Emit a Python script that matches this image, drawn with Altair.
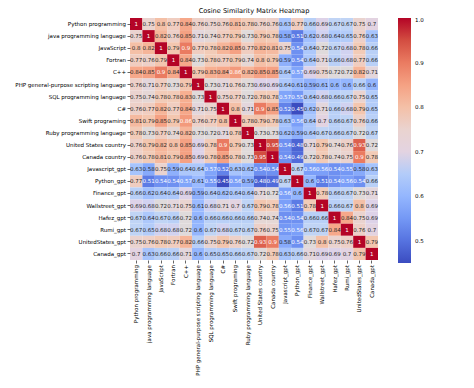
import altair as alt
import pandas as pd

labels = [
    "Python programming", "java programming language", "JavaScript", "Fortran", "C++",
    "PHP general-purpose scripting language", "SQL programming language", "C#",
    "Swift programing", "Ruby programming language", "United States country",
    "Canada country", "Javascript_gpt", "Python_gpt", "Finance_gpt", "Wallstreet_gpt",
    "Hafez_gpt", "Rumi_gpt", "UnitedStates_gpt", "Canada_gpt",
]

r_python = [1, 0.75, 0.8, 0.77, 0.84, 0.76, 0.75, 0.76, 0.81, 0.78, 0.76, 0.76, 0.63, 0.77, 0.66, 0.69, 0.67, 0.67, 0.75, 0.7]
r_java = [0.75, 1, 0.82, 0.76, 0.85, 0.71, 0.74, 0.77, 0.79, 0.73, 0.79, 0.78, 0.58, 0.51, 0.62, 0.68, 0.64, 0.65, 0.76, 0.63]
r_javascript = [0.8, 0.82, 1, 0.79, 0.9, 0.77, 0.78, 0.82, 0.85, 0.77, 0.82, 0.81, 0.75, 0.54, 0.64, 0.72, 0.67, 0.68, 0.78, 0.66]
r_fortran = [0.77, 0.76, 0.79, 1, 0.84, 0.73, 0.78, 0.77, 0.79, 0.74, 0.8, 0.79, 0.59, 0.54, 0.64, 0.71, 0.66, 0.68, 0.77, 0.66]
r_cpp = [0.84, 0.85, 0.9, 0.84, 1, 0.79, 0.83, 0.84, 0.86, 0.82, 0.85, 0.85, 0.64, 0.57, 0.69, 0.75, 0.72, 0.72, 0.82, 0.71]
r_php = [0.76, 0.71, 0.77, 0.73, 0.79, 1, 0.73, 0.71, 0.76, 0.73, 0.69, 0.69, 0.64, 0.61, 0.59, 0.61, 0.6, 0.6, 0.66, 0.6]
r_sql = [0.75, 0.74, 0.78, 0.78, 0.83, 0.73, 1, 0.75, 0.77, 0.72, 0.78, 0.78, 0.57, 0.55, 0.64, 0.68, 0.66, 0.67, 0.75, 0.65]
r_csharp = [0.76, 0.77, 0.82, 0.77, 0.84, 0.71, 0.75, 1, 0.8, 0.71, 0.9, 0.85, 0.52, 0.45, 0.62, 0.71, 0.66, 0.68, 0.79, 0.65]
r_swift = [0.81, 0.79, 0.85, 0.79, 0.86, 0.76, 0.77, 0.8, 1, 0.78, 0.79, 0.78, 0.63, 0.56, 0.64, 0.7, 0.66, 0.67, 0.76, 0.66]
r_ruby = [0.78, 0.73, 0.77, 0.74, 0.82, 0.73, 0.72, 0.71, 0.78, 1, 0.73, 0.73, 0.62, 0.59, 0.64, 0.67, 0.66, 0.67, 0.72, 0.67]
r_us = [0.76, 0.79, 0.82, 0.8, 0.85, 0.69, 0.78, 0.9, 0.79, 0.73, 1, 0.95, 0.54, 0.48, 0.71, 0.79, 0.74, 0.76, 0.93, 0.72]
r_canada = [0.76, 0.78, 0.81, 0.79, 0.85, 0.69, 0.78, 0.85, 0.78, 0.73, 0.95, 1, 0.54, 0.49, 0.72, 0.78, 0.74, 0.75, 0.9, 0.78]
r_js_gpt = [0.63, 0.58, 0.75, 0.59, 0.64, 0.64, 0.57, 0.52, 0.63, 0.62, 0.54, 0.54, 1, 0.67, 0.56, 0.56, 0.54, 0.55, 0.58, 0.63]
r_py_gpt = [0.77, 0.51, 0.54, 0.54, 0.57, 0.61, 0.55, 0.45, 0.56, 0.59, 0.48, 0.49, 0.67, 1, 0.6, 0.51, 0.54, 0.56, 0.54, 0.66]
r_fin_gpt = [0.66, 0.62, 0.64, 0.64, 0.69, 0.59, 0.64, 0.62, 0.64, 0.64, 0.71, 0.72, 0.56, 0.6, 1, 0.78, 0.66, 0.67, 0.73, 0.71]
r_ws_gpt = [0.69, 0.68, 0.72, 0.71, 0.75, 0.61, 0.68, 0.71, 0.7, 0.67, 0.79, 0.78, 0.56, 0.51, 0.78, 1, 0.66, 0.67, 0.8, 0.69]
r_hafez_gpt = [0.67, 0.64, 0.67, 0.66, 0.72, 0.6, 0.66, 0.66, 0.66, 0.66, 0.74, 0.74, 0.54, 0.54, 0.66, 0.66, 1, 0.84, 0.75, 0.69]
r_rumi_gpt = [0.67, 0.65, 0.68, 0.68, 0.72, 0.6, 0.67, 0.68, 0.67, 0.67, 0.76, 0.75, 0.55, 0.56, 0.67, 0.67, 0.84, 1, 0.76, 0.7]
r_us_gpt = [0.75, 0.76, 0.78, 0.77, 0.82, 0.66, 0.75, 0.79, 0.76, 0.72, 0.93, 0.9, 0.58, 0.54, 0.73, 0.8, 0.75, 0.76, 1, 0.79]
r_canada_gpt = [0.7, 0.63, 0.66, 0.66, 0.71, 0.6, 0.65, 0.65, 0.66, 0.67, 0.72, 0.78, 0.63, 0.66, 0.71, 0.69, 0.69, 0.7, 0.79, 1]

matrix = [r_python, r_java, r_javascript, r_fortran, r_cpp, r_php, r_sql, r_csharp,
          r_swift, r_ruby, r_us, r_canada, r_js_gpt, r_py_gpt, r_fin_gpt, r_ws_gpt,
          r_hafez_gpt, r_rumi_gpt, r_us_gpt, r_canada_gpt]

legend_ticks = [0.5, 0.6, 0.7, 0.8, 0.9, 1.0]
cmap_colors = ['#3b4cc0', '#5977e3', '#7b9ff9', '#9ebeff', '#c0d4f5', '#dddcdc',
               '#f2cbb7', '#f7ac8e', '#ee8468', '#d65244', '#b40426']
vmin, vmax = 0.45, 1.0
cmap_domain = [vmin + (vmax - vmin) * k / (len(cmap_colors) - 1) for k in range(len(cmap_colors))]

records = []
for i, rl in enumerate(labels):
    for j, cl in enumerate(labels):
        records.append({"row": rl, "col": cl, "v": matrix[i][j]})
df = pd.DataFrame(records)

FONT = "DejaVu Sans"

x_enc = alt.X("col:N", sort=labels, scale=alt.Scale(paddingInner=0, paddingOuter=0),
              axis=alt.Axis(title=None, labelAngle=-90, labelLimit=300,
                            labelAlign="right", labelBaseline="middle"))
y_enc = alt.Y("row:N", sort=labels, scale=alt.Scale(paddingInner=0, paddingOuter=0),
              axis=alt.Axis(title=None, labelLimit=300))

base = alt.Chart(df)

rects = base.mark_rect(strokeWidth=0).encode(
    x=x_enc,
    y=y_enc,
    color=alt.Color(
        "v:Q",
        scale=alt.Scale(domain=cmap_domain, range=cmap_colors, nice=False, zero=False),
        legend=alt.Legend(
            title=None, orient="right", offset=20, direction="vertical",
            gradientLength=245, gradientThickness=13, gradientStrokeWidth=0,
            values=legend_ticks, format=".1f", labelFont=FONT, labelFontSize=5.5,
            labelColor="#000", labelOffset=4, labelOverlap=False,
        ),
    ),
)

texts = base.mark_text(font=FONT, fontSize=5.5).encode(
    x=x_enc,
    y=y_enc,
    text=alt.Text("v:Q", format=".2~f"),
    color=alt.condition("datum.v < 0.575 || datum.v > 0.855",
                        alt.value("white"), alt.value("#262626")),
)

chart = (rects + texts).properties(
    width=248,
    height=242,
    title=alt.Title("Cosine Similarity Matrix Heatmap", font=FONT, fontSize=6.6,
                    fontWeight="normal", anchor="middle", offset=3, color="#000"),
    autosize=alt.AutoSizeParams(type="none"),
    padding={"left": 122, "top": 10, "right": 88, "bottom": 120},
).configure_axis(
    labelFont=FONT, labelFontSize=5.5, labelColor="#000",
    tickSize=3, tickColor="#000", tickWidth=0.6, domain=False, grid=False,
    labelPadding=1.5,
).configure_view(strokeWidth=0)

chart.save("out.html", embed_options={"renderer": "svg", "actions": False})
